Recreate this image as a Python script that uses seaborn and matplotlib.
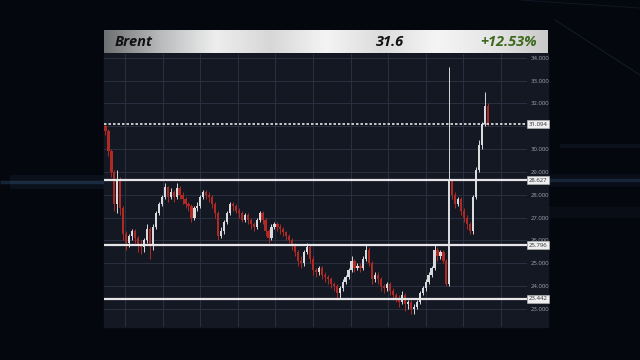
import matplotlib
matplotlib.use("Agg")
import matplotlib.pyplot as plt
import matplotlib.patches as mpatches
from matplotlib.colors import LinearSegmentedColormap
import seaborn as sns
import numpy as np

sns.set_theme(style="dark")
plt.rcParams['font.family'] = ['Open Sans', 'DejaVu Sans']

# ---- data ----
first_open = 31.0
closes = [
    30.8, 29.9, 29.0, 27.6, 28.7, 27.4, 26.3, 25.9, 26.2, 26.4,
    26.1, 25.8, 25.7, 26.0, 26.5, 25.8, 26.6, 27.2, 27.6, 27.9,
    28.35, 27.9, 28.1, 27.9, 28.3, 28.0, 27.8, 27.6, 27.5, 27.0,
    27.4, 27.5, 27.9, 28.1, 28.0, 27.9, 27.6, 27.2, 26.2, 26.4,
    26.8, 27.2, 27.6, 27.5, 27.3, 27.2, 26.9, 27.1, 26.9, 26.7,
    26.6, 26.9, 27.2, 26.9, 26.4, 26.1, 26.6, 26.7, 26.6, 26.5,
    26.35, 26.2, 26.0, 25.8, 25.5, 25.1, 25.0, 25.5, 25.7, 25.2,
    24.7, 24.6, 24.8, 24.5, 24.4, 24.3, 24.1, 24.0, 23.7, 23.9,
    24.2, 24.4, 24.7, 25.1, 24.8, 24.9, 24.8, 25.2, 25.6, 25.0,
    24.3, 24.5, 24.3, 24.0, 23.9, 24.1, 23.8, 23.6, 23.5, 23.3,
    23.6, 23.2, 23.3, 23.0, 23.1, 23.3, 23.7, 23.9, 24.2, 24.5,
    24.8, 25.6, 25.3, 25.5, 25.1, 24.1, 28.6, 28.0, 27.6, 27.8,
    27.3, 27.0, 26.7, 26.4, 27.9, 29.1, 30.2, 31.1, 31.9, 31.1,
]
highs = [
    31.1, 30.9, 30.0, 29.1, 29.1, 28.8, 27.5, 26.4, 26.3, 26.5,
    26.5, 26.2, 26.0, 26.1, 26.7, 26.6, 26.7, 27.3, 27.7, 28.0,
    28.5, 28.4, 28.3, 28.2, 28.5, 28.4, 28.1, 27.9, 27.7, 27.6,
    27.5, 27.7, 28.0, 28.2, 28.2, 28.1, 28.0, 27.7, 27.3, 26.6,
    26.9, 27.3, 27.7, 27.7, 27.6, 27.4, 27.3, 27.2, 27.2, 27.0,
    26.8, 27.0, 27.3, 27.3, 27.0, 26.5, 26.7, 26.8, 26.8, 26.7,
    26.6, 26.4, 26.3, 26.1, 25.9, 25.6, 25.3, 25.6, 25.9, 25.8,
    25.3, 24.8, 24.9, 24.9, 24.6, 24.5, 24.4, 24.2, 24.1, 24.0,
    24.3, 24.5, 24.8, 25.3, 25.2, 25.0, 25.0, 25.3, 25.8, 25.7,
    25.1, 24.6, 24.6, 24.4, 24.1, 24.2, 24.2, 23.9, 23.7, 23.6,
    23.8, 23.7, 23.4, 23.4, 23.2, 23.4, 23.8, 24.0, 24.3, 24.6,
    24.9, 25.8, 25.7, 25.6, 25.6, 25.2, 33.6, 28.7, 28.1, 27.9,
    27.9, 27.4, 27.1, 26.8, 28.0, 29.2, 30.4, 31.2, 32.5, 32.0,
]
lows = [
    30.6, 29.7, 28.8, 27.3, 27.2, 27.1, 26.0, 25.6, 25.7, 26.0,
    25.9, 25.5, 25.4, 25.5, 25.9, 25.2, 25.6, 26.5, 27.1, 27.5,
    27.8, 27.7, 27.8, 27.7, 27.8, 27.8, 27.6, 27.4, 27.3, 26.8,
    26.9, 27.3, 27.4, 27.8, 27.8, 27.7, 27.4, 27.0, 26.0, 26.1,
    26.3, 26.7, 27.1, 27.3, 27.2, 27.0, 26.8, 26.8, 26.7, 26.5,
    26.4, 26.5, 26.8, 26.7, 26.2, 25.9, 26.0, 26.5, 26.4, 26.3,
    26.2, 26.0, 25.9, 25.6, 25.3, 24.9, 24.8, 24.9, 25.4, 25.0,
    24.5, 24.4, 24.5, 24.3, 24.2, 24.1, 23.9, 23.8, 23.4, 23.5,
    23.8, 24.1, 24.3, 24.6, 24.6, 24.7, 24.6, 24.7, 25.1, 24.9,
    24.1, 24.2, 24.1, 23.8, 23.7, 23.8, 23.6, 23.4, 23.3, 23.1,
    23.2, 22.9, 23.0, 22.8, 22.8, 23.0, 23.2, 23.6, 23.8, 24.1,
    24.4, 24.7, 25.1, 25.2, 25.0, 24.0, 24.0, 27.8, 27.4, 27.5,
    27.1, 26.8, 26.5, 26.3, 26.3, 27.8, 29.0, 30.0, 31.0, 31.0,
]
levels = [28.627, 25.796, 23.442]
last_level = 31.094
price_ticks = [23, 24, 25, 26, 27, 28, 29, 30, 31, 32, 33, 34]
hidden_tick_labels = [31]  # covered by the 31.094 price tag

opens = [first_open] + closes[:-1]
idx = np.arange(len(closes))

RED = '#b02a25'
WHITE = '#d9dade'
PANEL = '#141823'
GRID = '#2a3040'

fig = plt.figure(figsize=(6.4, 3.6), dpi=100)
fig.patch.set_facecolor('#04070d')

# ---- background decoration ----
bg = fig.add_axes([0, 0, 1, 1], zorder=-10)
bg.set_xlim(0, 640)
bg.set_ylim(360, 0)
bg.axis('off')
for y0, x0, x1, a, w in [(182, 0, 104, 0.22, 2.5), (182, 10, 104, 0.08, 10),
                          (180, 548, 640, 0.18, 2.5), (180, 548, 640, 0.06, 9),
                          (146, 560, 640, 0.08, 3), (212, 548, 640, 0.05, 8)]:
    bg.plot([x0, x1], [y0, y0], color='#5a8ccc', alpha=a, lw=w, solid_capstyle='butt')
bg.plot([555, 640], [20, 75], color='#3a4d70', alpha=0.35, lw=0.6)
bg.plot([520, 640], [0, 8], color='#3a4d70', alpha=0.25, lw=0.6)
bg.add_patch(mpatches.Rectangle((104, 53), 444, 274, color=PANEL, zorder=1))

# ---- header bar ----
hd = fig.add_axes([104 / 640, 1 - 53 / 360, 444 / 640, 23 / 360])
hd_cmap = LinearSegmentedColormap.from_list(
    'hdr', ['#6f7072', '#b9babc', '#eeeeee', '#d7d7d7', '#f4f4f4', '#dcdcdc',
            '#f5f5f5', '#e6e6e6', '#c9c9c9'])
hd.imshow(np.linspace(0, 1, 256)[None, :], aspect='auto', cmap=hd_cmap,
          extent=[0, 1, 0, 1])
hd.set_xlim(0, 1)
hd.set_ylim(0, 1)
hd.axis('off')
hd.text(0.025, 0.48, 'Brent', fontsize=10.5, fontweight='bold', style='italic',
        color='#111111', va='center', ha='left')
hd.text(0.645, 0.48, '31.6', fontsize=10.5, fontweight='bold', style='italic',
        color='#111111', va='center', ha='center')
hd.text(0.975, 0.48, '+12.53%', fontsize=10.5, fontweight='bold', style='italic',
        color='#3d6a1e', va='center', ha='right')

# ---- chart ----
ax = fig.add_axes([104 / 640, 1 - 327 / 360, 423 / 640, 273 / 360])
ax.set_facecolor(PANEL)
ax.set_xlim(-0.5, 142.2)
ax.set_ylim(22.215, 34.16)

ax.set_xticks(np.arange(6.6, 142, 12.68))
ax.set_yticks(price_ticks)
ax.set_xticklabels([])
ax.yaxis.tick_right()
ax.set_yticklabels(['' if v in hidden_tick_labels else f'{v:.3f}' for v in price_ticks])
ax.tick_params(axis='y', length=0, pad=3, labelsize=4.3, labelcolor='#9ea3ad')
ax.tick_params(axis='x', length=0)
ax.grid(True, color=GRID, lw=0.7)
for s in ax.spines.values():
    s.set_visible(False)

colors = [WHITE if c >= o else RED for o, c in zip(opens, closes)]
ax.vlines(idx, lows, highs, colors=colors, lw=0.7, zorder=3)
bottoms = np.minimum(opens, closes)
heights = np.maximum(np.abs(np.array(closes) - np.array(opens)), 0.04)
ax.bar(idx, heights, bottom=bottoms, width=0.75, color=colors, lw=0, zorder=4)

for lv in levels:
    ax.axhline(lv, color='#e6e6e9', lw=1.6, zorder=5)
ax.axhline(last_level, color='#e6e6e9', lw=1.2, ls=(0, (1.5, 1.2)), zorder=5)

for lv in levels + [last_level]:
    ax.annotate(f'{lv:.3f}', xy=(1.004, lv), xycoords=('axes fraction', 'data'),
                fontsize=4.3, color='#2a2d35', va='center', ha='left',
                bbox=dict(boxstyle='square,pad=0.25', fc='#eeeeee', ec='#bbbbbb', lw=0.4),
                annotation_clip=False, zorder=6)

fig.savefig('out.png', dpi=100, facecolor=fig.get_facecolor())
